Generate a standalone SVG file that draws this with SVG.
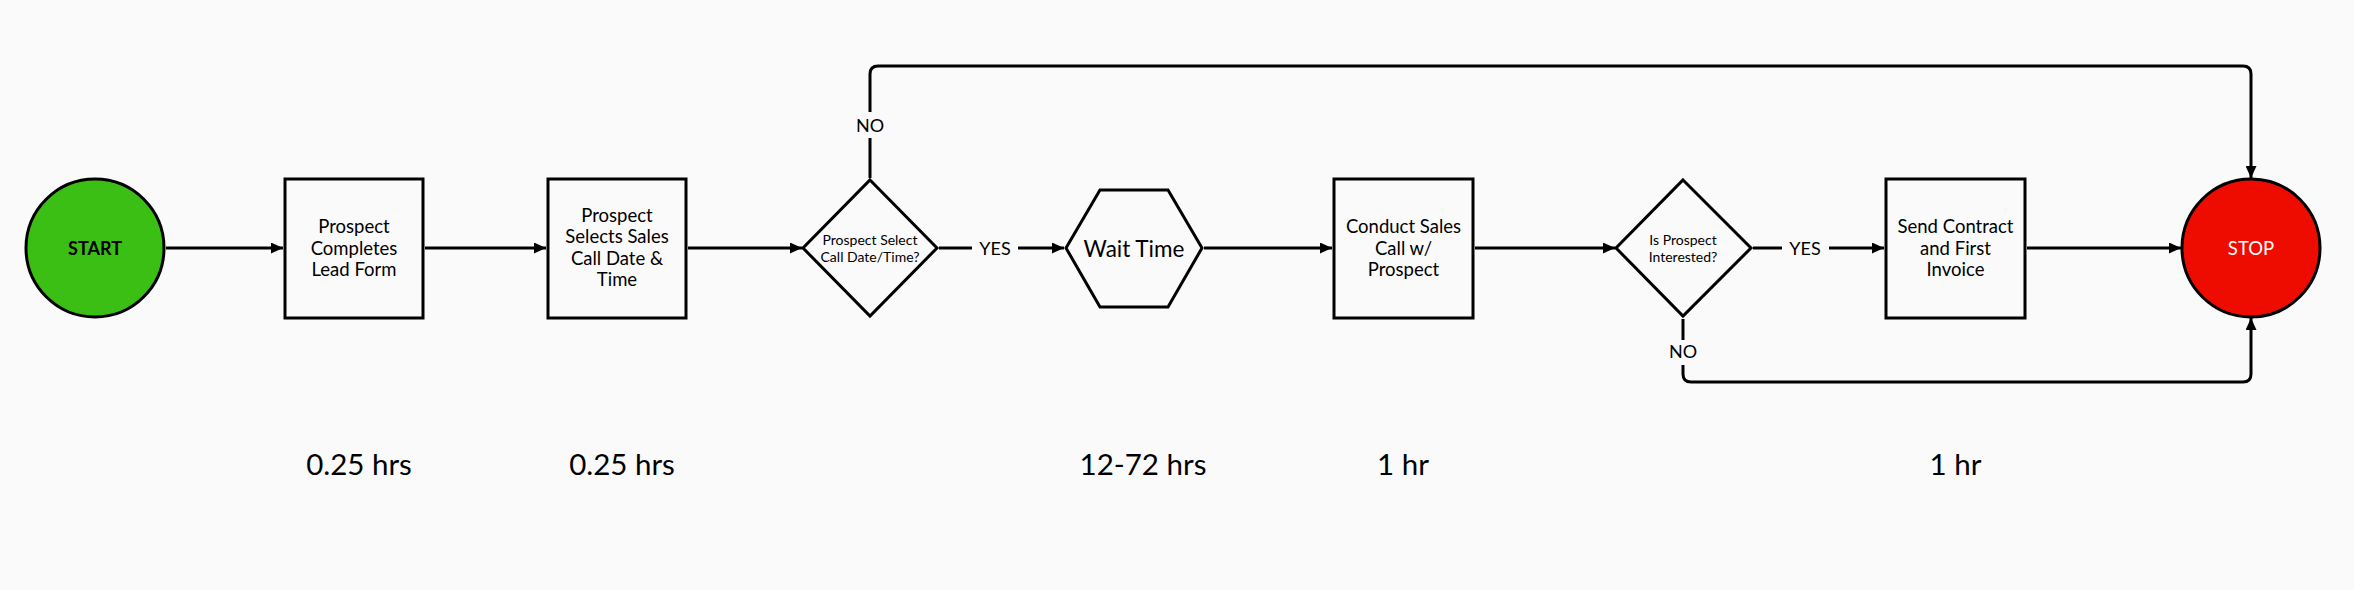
<svg xmlns="http://www.w3.org/2000/svg" width="2354" height="590" viewBox="0 0 2354 590">
<defs>
<style>
.shape{fill:#fafafa;stroke:#000;stroke-width:3}
.edge{fill:none;stroke:#000;stroke-width:3;stroke-linejoin:round}
text{font-family:Lato,"Liberation Sans",sans-serif;fill:#000;text-anchor:middle}
.t{font-size:18.5px}
.d{font-size:14px}
.lbl{font-size:18px}
.hrs{font-size:29.5px}
</style>
<marker id="arr" viewBox="0 0 12 11" refX="12" refY="5.5" markerWidth="12" markerHeight="11" markerUnits="userSpaceOnUse" orient="auto">
<path d="M0,0 L12,5.5 L0,11 Z" fill="#000"/>
</marker>
</defs>
<rect x="0" y="0" width="2354" height="590" fill="#fafafa"/>

<g id="connectors">
<path class="edge" d="M166,248 H283" marker-end="url(#arr)"/>
<path class="edge" d="M425,248 H546" marker-end="url(#arr)"/>
<path class="edge" d="M688,248 H802" marker-end="url(#arr)"/>
<path class="edge" d="M939,248 H972"/>
<path class="edge" d="M1018,248 H1064" marker-end="url(#arr)"/>
<text class="lbl" x="995" y="255">YES</text>
<path class="edge" d="M1204,248 H1332" marker-end="url(#arr)"/>
<path class="edge" d="M1475,248 H1615" marker-end="url(#arr)"/>
<path class="edge" d="M1753,248 H1782"/>
<path class="edge" d="M1829,248 H1884" marker-end="url(#arr)"/>
<text class="lbl" x="1805" y="255">YES</text>
<path class="edge" d="M2027,248 H2181" marker-end="url(#arr)"/>
<path class="edge" d="M870,178 V138"/>
<text class="lbl" x="870" y="131.5">NO</text>
<path class="edge" d="M870,112 V74 Q870,66 878,66 H2243 Q2251,66 2251,74 V178" marker-end="url(#arr)"/>
<path class="edge" d="M1683,319 V340"/>
<text class="lbl" x="1683" y="358">NO</text>
<path class="edge" d="M1683,365 V374 Q1683,382 1691,382 H2243 Q2251,382 2251,374 V318" marker-end="url(#arr)"/>
</g>

<g id="start">
<circle cx="95" cy="248" r="69" fill="#3bbf14" stroke="#000" stroke-width="3"/>
<text x="95" y="255" font-size="18" font-weight="bold">START</text>
</g>

<g id="lead-form">
<rect class="shape" x="285" y="179" width="138" height="139"/>
<text class="t" x="354" y="233">Prospect</text>
<text class="t" x="354" y="254.5">Completes</text>
<text class="t" x="354" y="276">Lead Form</text>
</g>

<g id="select-date">
<rect class="shape" x="548" y="179" width="138" height="139"/>
<text class="t" x="617" y="221.6">Prospect</text>
<text class="t" x="617" y="243.2">Selects Sales</text>
<text class="t" x="617" y="264.8">Call Date &amp;</text>
<text class="t" x="617" y="286.4">Time</text>
</g>

<g id="decision-date">
<polygon class="shape" points="870,180 937,248 870,316 803,248"/>
<text class="d" x="870" y="244.5">Prospect Select</text>
<text class="d" x="870" y="261.5">Call Date/Time?</text>
</g>

<g id="wait-time">
<polygon class="shape" points="1066,248 1100,190 1168,190 1202,248 1168,307 1100,307"/>
<text x="1134" y="256.5" font-size="22.5">Wait Time</text>
</g>

<g id="sales-call">
<rect class="shape" x="1334" y="179" width="139" height="139"/>
<text class="t" x="1403.5" y="233">Conduct Sales</text>
<text class="t" x="1403.5" y="254.5">Call w/</text>
<text class="t" x="1403.5" y="276">Prospect</text>
</g>

<g id="decision-interested">
<polygon class="shape" points="1683,180 1751,248 1683,316 1616,248"/>
<text class="d" x="1683" y="244.5">Is Prospect</text>
<text class="d" x="1683" y="261.5">Interested?</text>
</g>

<g id="contract">
<rect class="shape" x="1886" y="179" width="139" height="139"/>
<text class="t" x="1955.5" y="233">Send Contract</text>
<text class="t" x="1955.5" y="254.5">and First</text>
<text class="t" x="1955.5" y="276">Invoice</text>
</g>

<g id="stop">
<circle cx="2251" cy="248" r="69" fill="#ee0c00" stroke="#000" stroke-width="3"/>
<text x="2251" y="255" font-size="18.5" style="fill:#fff">STOP</text>
</g>

<g id="durations">
<text class="hrs" x="359" y="475">0.25 hrs</text>
<text class="hrs" x="622" y="475">0.25 hrs</text>
<text class="hrs" x="1143" y="475">12-72 hrs</text>
<text class="hrs" x="1403" y="475">1 hr</text>
<text class="hrs" x="1955.5" y="475">1 hr</text>
</g>
</svg>
